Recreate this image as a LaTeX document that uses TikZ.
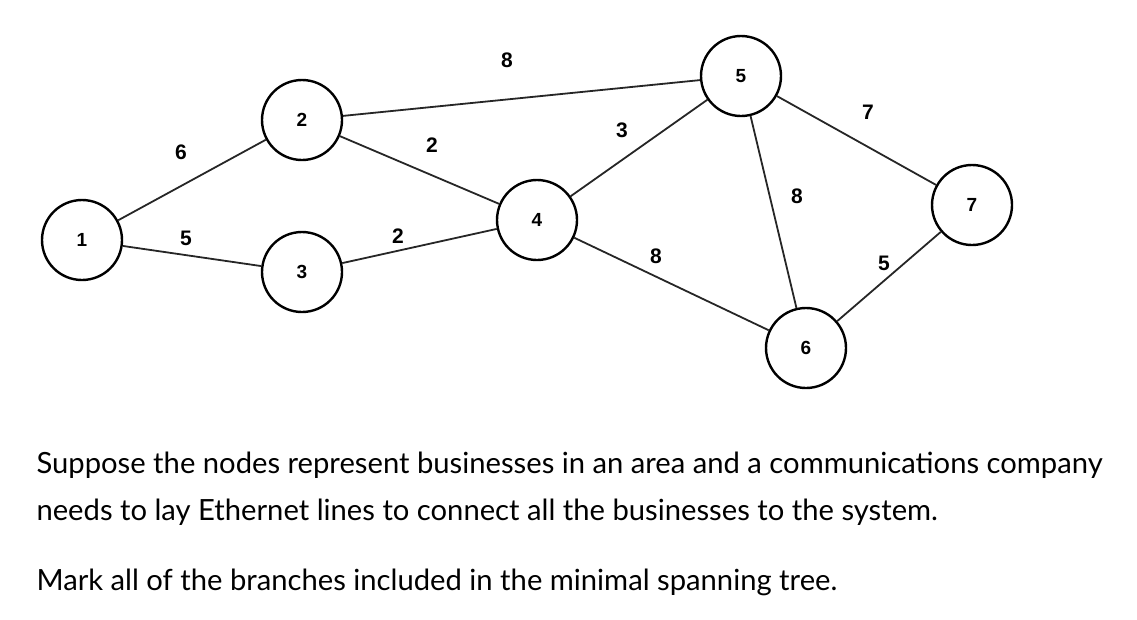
\documentclass[tikz,border=0pt]{standalone}
\usepackage{fontspec}
\setmainfont{Lato}
\newfontfamily\lab{Liberation Sans}
\begin{document}
\begin{tikzpicture}[x=1pt,y=-1pt,
  nd/.style={circle,draw,line width=2.4pt,minimum size=80pt,inner sep=0pt,font=\lab\bfseries\fontsize{19}{19}\selectfont},
  ed/.style={line width=1.8pt,draw=black!85},
  wl/.style={font=\lab\bfseries\fontsize{21}{21}\selectfont}]
\useasboundingbox (0,0) rectangle (1137,619);
\node[nd] (n1) at (82,240) {1};
\node[nd] (n2) at (302,120) {2};
\node[nd] (n3) at (302,272) {3};
\node[nd] (n4) at (537,220) {4};
\node[nd] (n5) at (741,76) {5};
\node[nd] (n6) at (806,348) {6};
\node[nd] (n7) at (972,205) {7};
\draw[ed] (n1)--(n2); \draw[ed] (n1)--(n3);
\draw[ed] (n2)--(n4); \draw[ed] (n3)--(n4);
\draw[ed] (n2)--(n5); \draw[ed] (n4)--(n5);
\draw[ed] (n4)--(n6); \draw[ed] (n5)--(n6);
\draw[ed] (n5)--(n7); \draw[ed] (n6)--(n7);
\node[wl] (w1) at (181,152) {6};
\node[wl] (w2) at (186,238) {5};
\node[wl] (w3) at (432,145) {2};
\node[wl] (w4) at (398,236) {2};
\node[wl] (w5) at (507,60) {8};
\node[wl] (w6) at (622,130) {3};
\node[wl] (w7) at (656,256) {8};
\node[wl] (w8) at (797,196) {8};
\node[wl] (w9) at (868,112) {7};
\node[wl] (w10) at (884,263) {5};
\node[anchor=west,font=\fontsize{29.2}{29.2}\selectfont] (t1) at (33,465) {Suppose the nodes represent businesses in an area and a communications company};
\node[anchor=west,font=\fontsize{29.2}{29.2}\selectfont] (t2) at (33,512) {needs to lay Ethernet lines to connect all the businesses to the system.};
\node[anchor=west,font=\fontsize{29.2}{29.2}\selectfont] (t3) at (33,582) {Mark all of the branches included in the minimal spanning tree.};
\end{tikzpicture}
\end{document}
